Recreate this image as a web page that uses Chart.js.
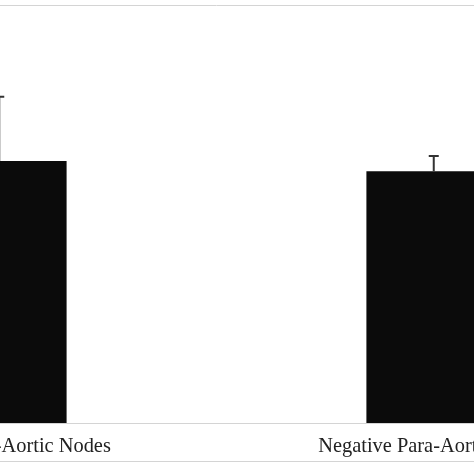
<!DOCTYPE html>
<html>
<head>
<meta charset="utf-8">
<script src="https://cdn.jsdelivr.net/npm/chart.js@4.4.1/dist/chart.umd.min.js"></script>
<style>
  html, body { margin: 0; padding: 0; background: #fff; overflow: hidden; }
  #wrap { position: absolute; left: -218px; top: 0; width: 869px; height: 474px; }
  #frameLine { position: absolute; left: 0; top: 461px; width: 474px; height: 1px; background: #d4d4d4; }
</style>
</head>
<body>
<div id="wrap"><canvas id="grafico"></canvas></div>
<div id="frameLine"></div>
<script>
// datos
const categorias = ['Positive Para-Aortic Nodes', 'Negative Para-Aortic Nodes'];
const valores = [62.7, 60.3];
const errores = [15.4, 3.6];
const ejeMax = 100;

// barras de error dibujadas con las escalas del grafico
const barrasError = {
    id: 'barrasError',
    afterDatasetsDraw(chart) {
        const ctx = chart.ctx;
        const x = chart.scales.x;
        const y = chart.scales.y;
        ctx.save();
        ctx.strokeStyle = '#333';
        ctx.lineWidth = 2;
        valores.forEach((v, i) => {
            const px = x.getPixelForValue(i);
            const y0 = y.getPixelForValue(v);
            const y1 = y.getPixelForValue(v + errores[i]);
            ctx.beginPath();
            ctx.moveTo(px, y0);
            ctx.lineTo(px, y1);
            ctx.moveTo(px - 5, y1);
            ctx.lineTo(px + 5, y1);
            ctx.stroke();
        });
        ctx.restore();
    }
};

const ctx = document.getElementById('grafico').getContext('2d');
new Chart(ctx, {
    type: 'bar',
    data: {
        labels: categorias,
        datasets: [{
            data: valores,
            backgroundColor: '#0b0b0b',
            borderWidth: 0,
            barPercentage: 0.62,
            categoryPercentage: 0.5
        }]
    },
    options: {
        responsive: true,
        maintainAspectRatio: false,
        animation: false,
        layout: { padding: { top: 5, bottom: 5, left: 0, right: 0 } },
        plugins: { legend: { display: false }, tooltip: { enabled: false } },
        scales: {
            x: {
                grid: { display: false, drawTicks: false },
                border: { display: true, color: '#d4d4d4', width: 1 },
                ticks: {
                    color: '#222',
                    padding: 10.5,
                    maxRotation: 0,
                    autoSkip: false,
                    font: { family: 'Liberation Serif', size: 20.4 }
                }
            },
            y: {
                min: 0,
                max: ejeMax,
                ticks: { display: false, stepSize: 20 },
                border: { display: false },
                grid: {
                    drawTicks: false,
                    color: c => c.tick && c.tick.value === ejeMax ? '#d4d4d4' : 'rgba(0,0,0,0)'
                }
            }
        }
    },
    plugins: [barrasError]
});
</script>
</body>
</html>
